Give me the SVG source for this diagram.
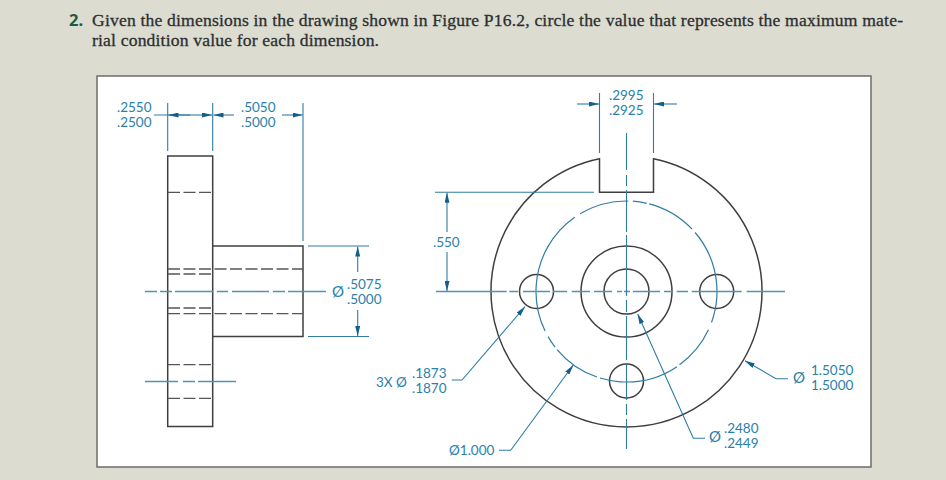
<svg xmlns="http://www.w3.org/2000/svg" width="946" height="480" viewBox="0 0 946 480">
<style>
.ttl{font-family:"Liberation Serif",serif;font-size:17.6px;fill:#2b2f30;stroke:#2b2f30;stroke-width:.3}
.dim{font-family:Lato,"Open Sans",sans-serif;font-size:13.5px;fill:#2a7fa8}
.sym{font-size:15px}
.obj{fill:none;stroke:#3f3f3f;stroke-width:1.5}
.hid{fill:none;stroke:#555;stroke-width:1.3;stroke-dasharray:12 3.5}
.cl{fill:none;stroke:#4f93b5;stroke-width:1.4}
.ext{fill:none;stroke:#2f7da3;stroke-width:1.1}
.ld{fill:none;stroke:#2f7da3;stroke-width:1.1}
.ar{marker-end:url(#a)}
</style>
<defs>
<marker id="a" viewBox="0 0 10 5" refX="10" refY="2.5" markerWidth="10" markerHeight="5" markerUnits="userSpaceOnUse" orient="auto"><path d="M0 0L10 2.5L0 5Z" fill="#125f8c"/></marker>
</defs>
<rect width="946" height="480" fill="#dcdcd0"/>
<text x="69" y="26" font-family="'Open Sans',sans-serif" font-size="16.5" font-weight="700" fill="#1f5a45">2.</text>
<text class="ttl" x="92" y="26" textLength="811" lengthAdjust="spacing">Given the dimensions in the drawing shown in Figure P16.2, circle the value that represents the maximum mate-</text>
<text class="ttl" x="92" y="46" textLength="287" lengthAdjust="spacing">rial condition value for each dimension.</text>
<rect x="97" y="76" width="774" height="391" fill="#fff" stroke="#6d6d68" stroke-width="1.5"/>

<g id="side-view">
<path class="obj" d="M167.7 156H212.7V426.5H167.7Z"/>
<path class="obj" d="M212.7 246H303V336.5H212.7"/>
<path class="hid" d="M168 192.3H213M168 269H303M168 274H213M168 308H213M168 313.7H303M168 364.7H213M168 398.3H213"/>
<path class="cl" d="M145 291.5H157M160 291.5H172M175 291.5H213M217 291.5H228M232 291.5H269M273 291.5H285M288 291.5H326M145 381.5H178M183 381.5H195M198 381.5H236"/>
</g>

<g id="front-view">
<path class="obj" d="M653.5 158.7A135.5 135.5 0 1 1 599.5 158.7V192.3H653.5Z"/>
<circle class="obj" cx="626.5" cy="291.5" r="45.5"/>
<circle class="obj" cx="626.5" cy="291.5" r="22.5"/>
<circle class="obj" cx="536.5" cy="291.5" r="17"/>
<circle class="obj" cx="716.7" cy="291.5" r="17"/>
<circle class="obj" cx="626.5" cy="381" r="17"/>
<circle cx="626.5" cy="291.5" r="90.5" fill="none" stroke="#2f7da3" stroke-width="1.2" pathLength="360" stroke-dasharray="9 1.5 32 2.8 60.8 5 29 2 51 2 31 2 8 4 81 4 32 3" transform="rotate(-86 626.5 291.5)"/>
<path class="cl" d="M436 291.5H506.7M509.3 291.5H518M523 291.5H550M553 291.5H567M571.7 291.5H590M594 291.5H612M617 291.5H622M624 291.5H630M633 291.5H660M664 291.5H673M676.7 291.5H688M691.7 291.5H741.7M746.7 291.5H785"/>
<path class="ext" d="M626.5 133V170M626.5 175V186M626.5 190V232M626.5 235V296M626.5 300V312M626.5 316V360M626.5 364V400M626.5 404V415M626.5 419V449"/>
</g>

<g id="connectors">
<path class="ext" d="M167.7 103V151M212.7 103V151M303 103V241M599.5 93V153M653.5 93V153M308 246H369M308 336.5H369M435 192.3H594"/>
<path class="ld" d="M154 115H190"/>
<path class="ld ar" d="M190 115H168.5"/>
<path class="ld ar" d="M190 115H212"/>
<path class="ld ar" d="M234 115H213.5"/>
<path class="ld ar" d="M282 115H302.5"/>
<path class="ld ar" d="M577 104H599"/>
<path class="ld ar" d="M677 104H654"/>
<path class="ld ar" d="M447 232V192.8"/>
<path class="ld ar" d="M447 252V291"/>
<path class="ld ar" d="M357.7 272V246.5"/>
<path class="ld ar" d="M357.7 310V336"/>
<path class="ld ar" d="M451.7 380H462L525 306.7"/>
<path class="ld ar" d="M499 450.3H510.7L573.3 365"/>
<path class="ld ar" d="M705 438.3H693.3L637.7 314"/>
<path class="ld ar" d="M788 378.7H776L745 360.7"/>
</g>

<g id="labels">
<text class="dim"><tspan x="117" y="111.7">.2550</tspan><tspan x="117" y="126.7">.2500</tspan></text>
<text class="dim"><tspan x="241" y="111.7">.5050</tspan><tspan x="241" y="126.7">.5000</tspan></text>
<text class="dim"><tspan x="609" y="100">.2995</tspan><tspan x="609" y="115">.2925</tspan></text>
<text class="dim" x="433" y="246.7">.550</text>
<text class="dim sym" x="332" y="296.7">Ø</text>
<text class="dim"><tspan x="347" y="289">.5075</tspan><tspan x="347" y="304">.5000</tspan></text>
<text class="dim" x="376" y="386.7">3X Ø</text>
<text class="dim"><tspan x="412" y="378">.1873</tspan><tspan x="412" y="393">.1870</tspan></text>
<text class="dim" x="449" y="455">Ø1.000</text>
<text class="dim sym" x="709" y="442">Ø</text>
<text class="dim"><tspan x="724" y="433">.2480</tspan><tspan x="724" y="448">.2449</tspan></text>
<text class="dim sym" x="793" y="383">Ø</text>
<text class="dim"><tspan x="811" y="375">1.5050</tspan><tspan x="811" y="390">1.5000</tspan></text>
</g>
</svg>
